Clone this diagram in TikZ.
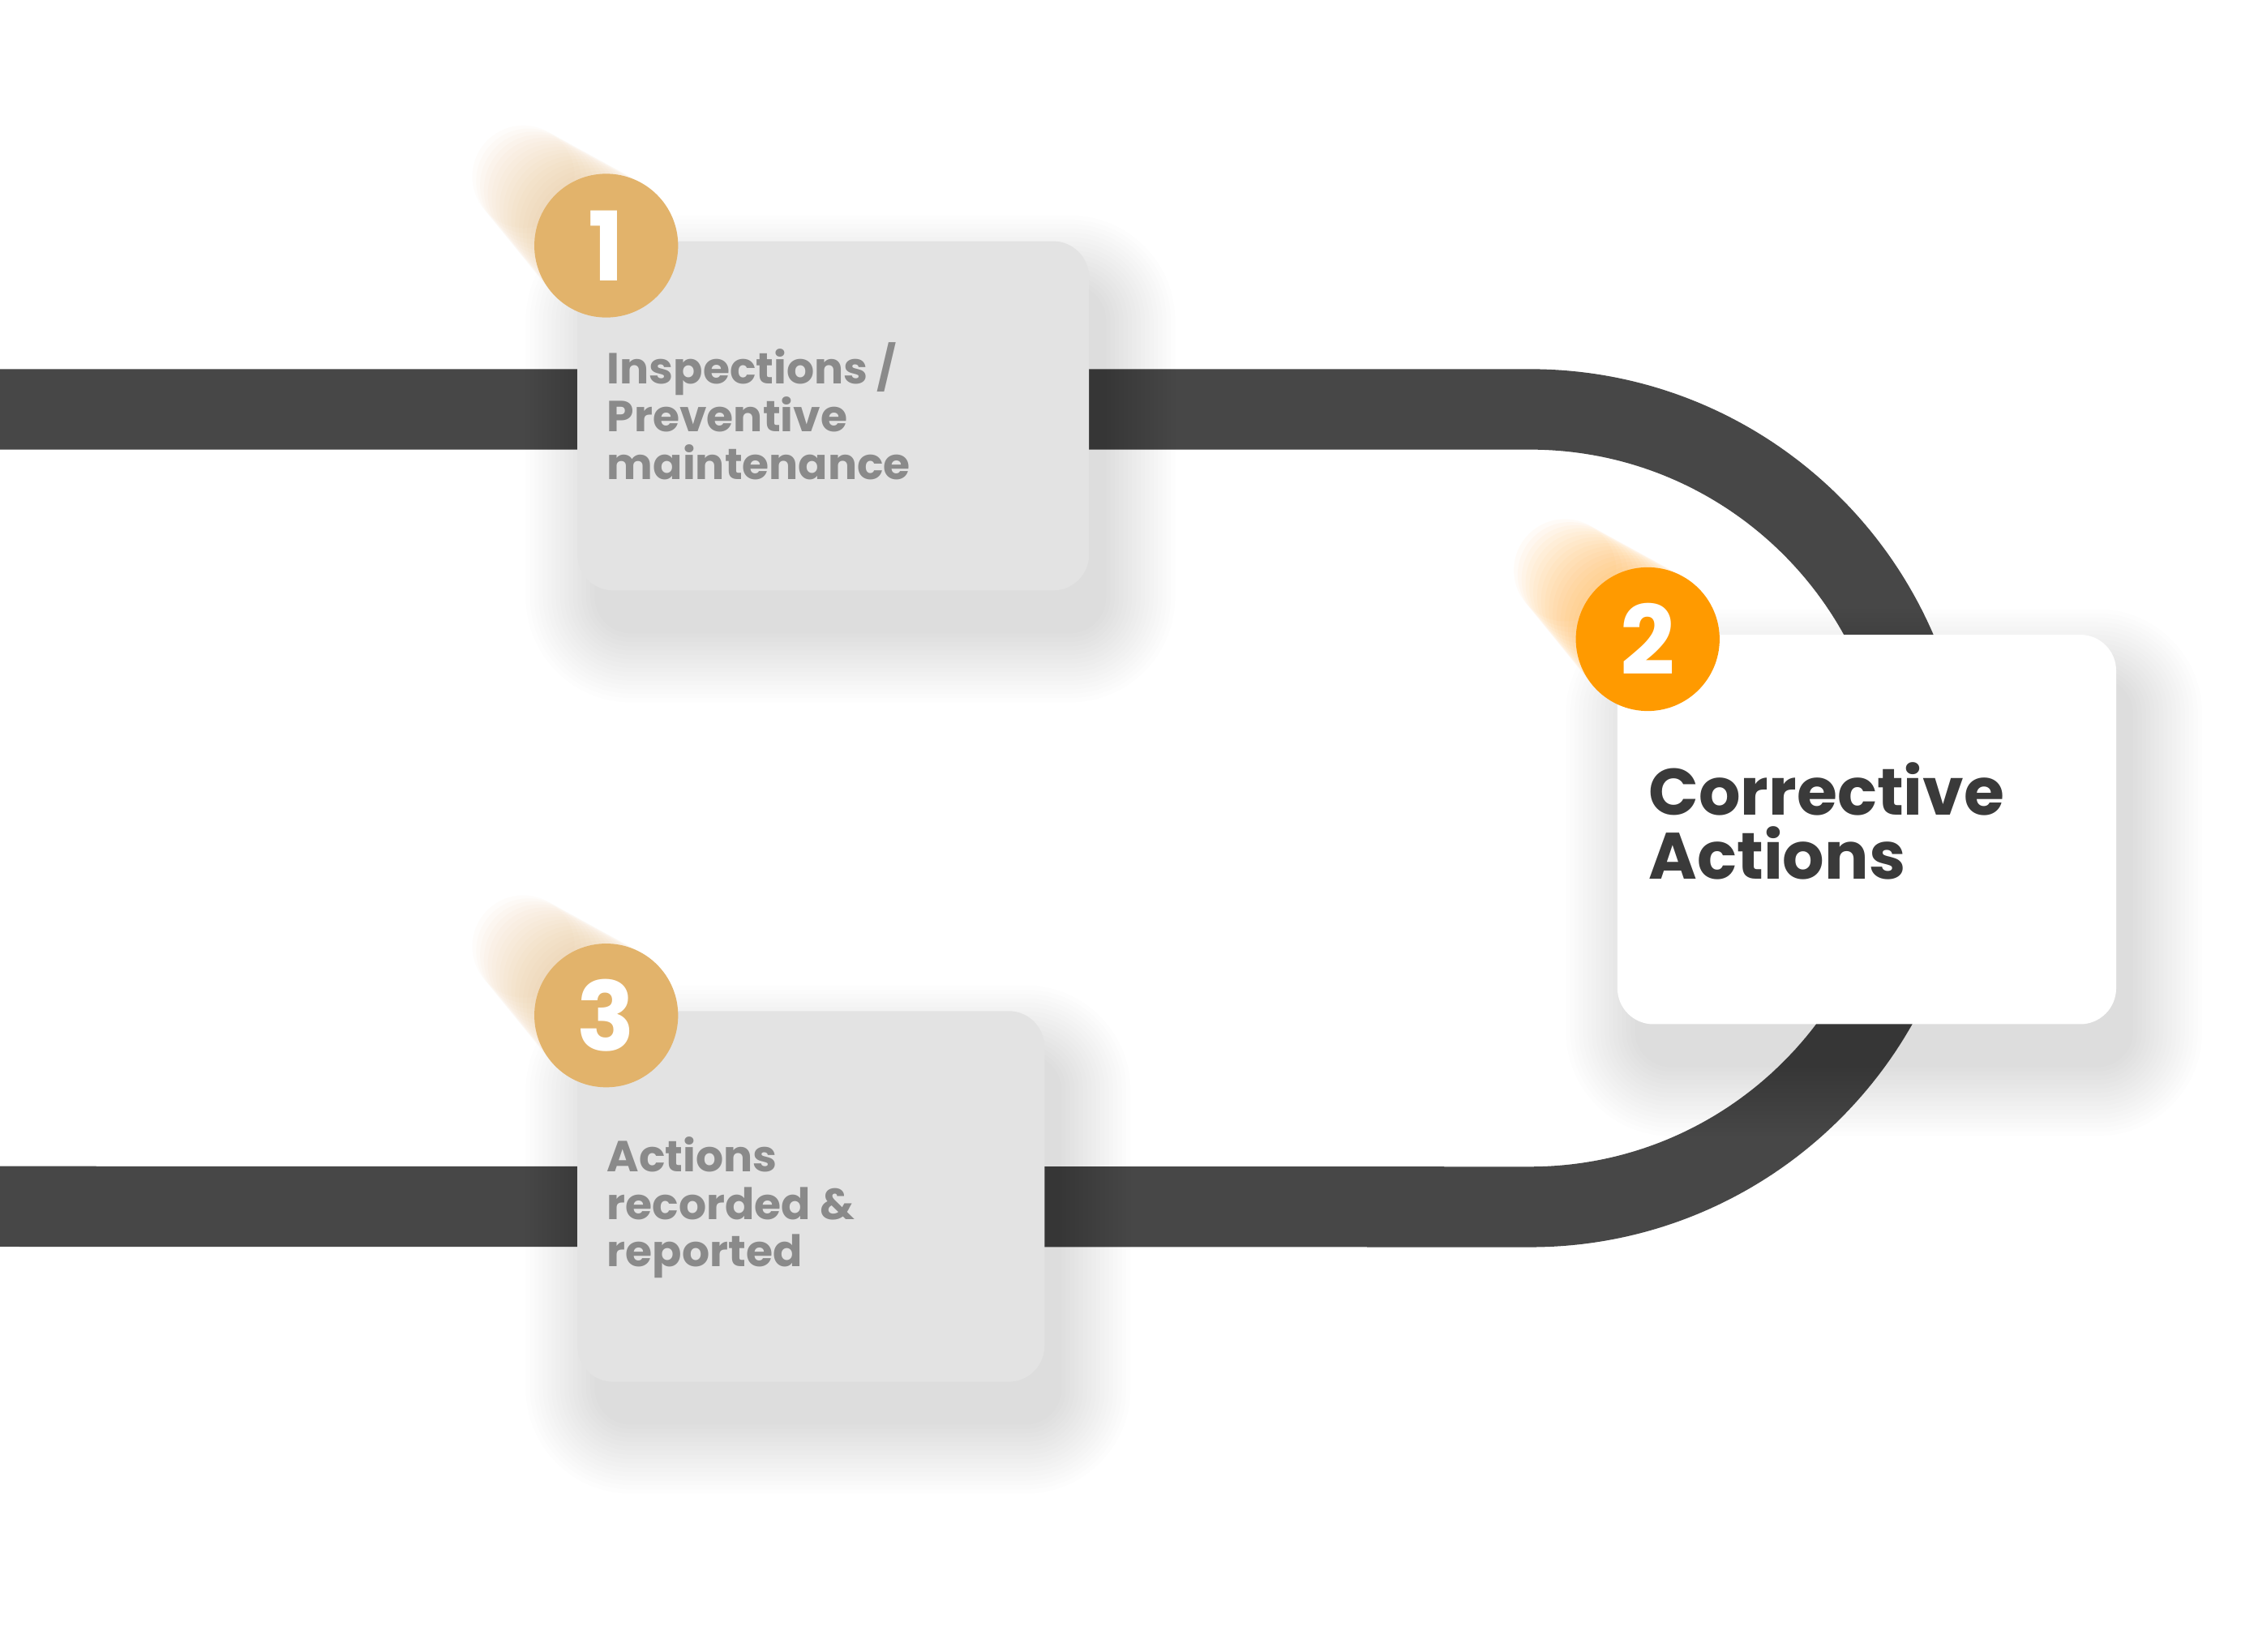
\documentclass[tikz,border=0pt]{standalone}
\usepackage{fontspec}
\setmainfont{Poppins}
\usetikzlibrary{calc}
\definecolor{track}{HTML}{474747}
\definecolor{boxgray}{HTML}{E3E3E3}
\definecolor{txtgray}{HTML}{8A8A8A}
\definecolor{gold}{HTML}{E2B36B}
\definecolor{orng}{HTML}{FF9A00}
\definecolor{dark}{HTML}{3A3A3A}
\tikzset{
 card/.style={rounded corners=0.25cm, inner sep=0pt},
 badge/.style={circle, minimum size=1cm, inner sep=0pt, text=white, font=\bfseries\fontsize{19pt}{19pt}\selectfont},
 steptext/.style={anchor=north west, align=left, inner sep=0pt, text=txtgray, font=\bfseries\fontsize{8.6pt}{9.4pt}\selectfont},
}
\newcommand{\glowat}[2]{%
 \foreach \i in {1,...,16}{
  \fill[#2, opacity=0.03] ($(#1)+(-3.6*\i,-3.0*\i)$) circle[radius={50-0.9*\i}];
 }}
\newcommand{\shadowbox}[4]{%
 \foreach \i in {0,...,16}{
  \fill[black, opacity=0.008, rounded corners={(25+3*\i)*0.01cm}] ({#1-3*\i+12},{#2-3*\i+30}) rectangle ({#3+3*\i+12},{#4+3*\i+30});
 }}
\begin{document}
\begin{tikzpicture}[x=0.01cm,y=-0.01cm]
\useasboundingbox[fill=white] (0,0) rectangle (1560,1150);
% track
\coordinate (tl) at (0,285);
\coordinate (bl) at (0,840);
\draw[track, line width=0.56cm] (tl) -- (1065,285) arc[start angle=90, end angle=-90, radius=2.775cm] -- (bl);
% shadows
\shadowbox{402}{168}{758}{411}
\shadowbox{402}{704}{727}{962}
\shadowbox{1126}{442}{1473}{713}
% cards
\node[card, fill=boxgray, minimum width=3.56cm, minimum height=2.43cm] (c1) at (580,289.5) {};
\node[card, fill=boxgray, minimum width=3.25cm, minimum height=2.58cm] (c3) at (564.5,833) {};
\node[card, fill=white, minimum width=3.47cm, minimum height=2.71cm] (c2) at (1299.5,577.5) {};
% glows
\glowat{422,171}{gold}
\glowat{1147,445}{orng}
\glowat{422,707}{gold}
% badges
\node[badge, fill=gold] (b1) at (422,171) {1};
\node[badge, fill=orng] (b2) at (1147,445) {2};
\node[badge, fill=gold] (b3) at (422,707) {3};
% texts
\node[steptext] (t1) at (422,238) {Inspections /\\Preventive\\maintenance};
\node[steptext] (t3) at (422,791) {Actions\\recorded \&\\reported};
\node[steptext, text=dark, font=\bfseries\fontsize{13pt}{12.8pt}\selectfont] (t2) at (1147,530) {Corrective\\Actions};
\end{tikzpicture}
\end{document}
